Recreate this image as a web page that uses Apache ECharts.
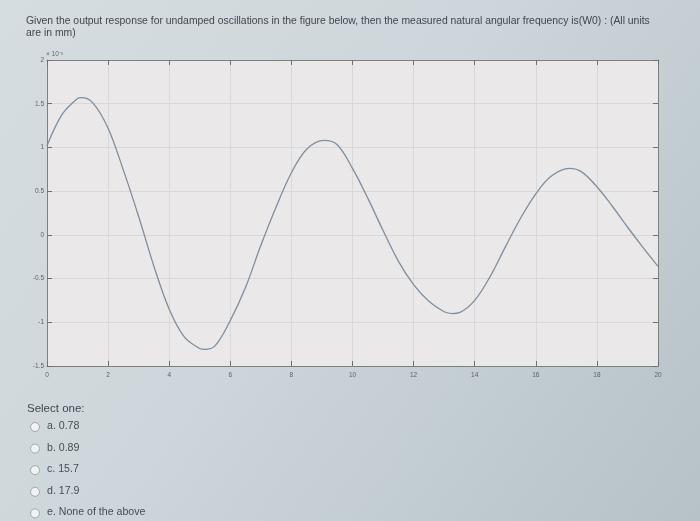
<!DOCTYPE html>
<html>
<head>
<meta charset="utf-8">
<script src="https://cdn.jsdelivr.net/npm/echarts@6/dist/echarts.min.js"></script>
<style>
html,body{margin:0;padding:0;width:700px;height:521px;overflow:hidden;}
#c{width:700px;height:521px;}
</style>
</head>
<body>
<div id="c"></div>
<script>
// time samples (peaks/troughs included where read)
const timeValues = [0,0.5,1,1.13,1.5,2,2.5,3,3.5,4,4.5,5,5.15,5.5,6,6.5,7,7.5,8,8.5,9.07,9.5,10,10.5,11,11.5,12,12.5,13,13.27,13.5,14,14.5,15,15.5,16,16.5,17.1,17.5,18,18.5,19,19.5,20];
// response in units of 1e-3
const responseValues = [1.02,1.38,1.56,1.57,1.51,1.22,0.74,0.21,-0.36,-0.85,-1.17,-1.30,-1.31,-1.27,-0.98,-0.60,-0.12,0.32,0.71,0.98,1.08,1.03,0.76,0.42,0.05,-0.30,-0.57,-0.76,-0.88,-0.90,-0.89,-0.75,-0.48,-0.14,0.19,0.47,0.67,0.76,0.72,0.55,0.33,0.09,-0.14,-0.36];
const xTicks = [0,2,4,6,8,10,12,14,16,18,20];
const yTicks = [-1.5,-1,-0.5,0,0.5,1,1.5,2];
const questionLines = ["Given the output response for undamped oscillations in the figure below, then the measured natural angular frequency is(W0) : (All units","are in mm)"];
const optionLabels = ["a. 0.78","b. 0.89","c. 15.7","d. 17.9","e. None of the above"];

const chart = echarts.init(document.getElementById('c'));
const font = 'Liberation Sans, Arial, sans-serif';
const data = timeValues.map((t,i)=>[t,responseValues[i]]);

const graphics = [];
questionLines.forEach((s,i)=>graphics.push({type:'text', left:26, top:16+i*12.5, style:{text:s, fill:'#434552', font:'10.4px '+font}}));
graphics.push({type:'text', left:46, top:51, style:{text:'× 10⁻³', fill:'#666', font:'6.5px '+font}});
graphics.push({type:'text', left:27, top:403, style:{text:'Select one:', fill:'#444652', font:'11.5px '+font}});
optionLabels.forEach((s,i)=>{
  const y = 427 + i*21.6;
  graphics.push({type:'circle', shape:{cx:35, cy:y, r:4.5}, style:{fill:'#f0f2f3', stroke:'#a0a8ae', lineWidth:1}});
  graphics.push({type:'text', left:47, top:y-6.5, style:{text:s, fill:'#4a4b56', font:'10.6px '+font}});
});

const axisLine = {show:true, onZero:false, lineStyle:{color:'#7f7f82', width:1}};
const tick = {show:true, inside:true, length:5, lineStyle:{color:'#6f6f72'}};
chart.setOption({
  backgroundColor:{type:'linear',x:0,y:0,x2:1,y2:1,colorStops:[{offset:0,color:'#d6dde1'},{offset:0.45,color:'#cdd6da'},{offset:1,color:'#b6c2c8'}]},
  animation:false,
  grid:{left:47, right:42, top:60, bottom:155, show:true, backgroundColor:'#ebe8ea', borderWidth:0},
  xAxis:[{
    type:'value', min:0, max:20, interval:2,
    axisLine:axisLine, axisTick:tick,
    axisLabel:{color:'#5f5f63', fontSize:6.5, fontFamily:font, margin:6, formatter:v=>xTicks.includes(v)?String(v):''},
    splitLine:{show:true, lineStyle:{color:'#d9d7da', width:1}}
  },{
    type:'value', position:'top', min:0, max:20, interval:2,
    axisLine:axisLine, axisTick:tick,
    axisLabel:{show:false}, splitLine:{show:false}
  }],
  yAxis:[{
    type:'value', min:-1.5, max:2, interval:0.5,
    axisLine:axisLine, axisTick:tick,
    axisLabel:{color:'#5f5f63', fontSize:6.5, fontFamily:font, margin:3, formatter:v=>yTicks.includes(v)?String(v):''},
    splitLine:{show:true, lineStyle:{color:'#d9d7da', width:1}}
  },{
    type:'value', position:'right', min:-1.5, max:2, interval:0.5,
    axisLine:axisLine, axisTick:tick,
    axisLabel:{show:false}, splitLine:{show:false}
  }],
  series:[{
    type:'line', data:data, smooth:0.35, showSymbol:false,
    lineStyle:{color:'#7e8e9c', width:1.3}
  }],
  graphic:graphics
});
</script>
</body>
</html>
